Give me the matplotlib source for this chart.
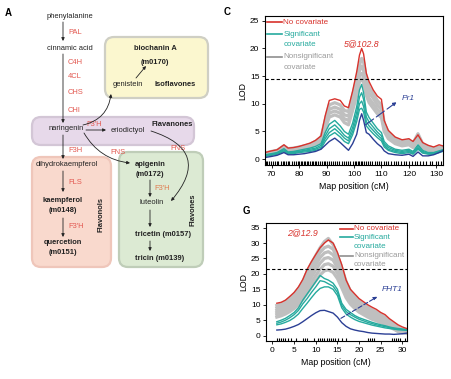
import matplotlib

matplotlib.use("Agg")

import matplotlib.pyplot as plt
from matplotlib.patches import FancyBboxPatch

plt.rcParams["font.family"] = ["Liberation Sans", "DejaVu Sans"]

RED = "#d8322c"
TEAL = "#26aa9e"
BLUE = "#2b3f95"
GRAY = "#bfbfbf"
KEYGRAY = "#8f8f8f"
ENZ = "#e2574f"

# panel C: chromosome 5 scan
c_pos = [67.6, 70, 72, 74.5, 76, 78, 80, 82, 84, 86, 88, 89.5, 91, 93, 95, 96.5,
         98, 99.5, 101, 102, 102.8, 103.5, 104.5, 105.5, 107, 108.5, 110, 111,
         112.5, 115, 117.5, 120, 121.5, 123.3, 125, 127, 129, 131, 132.3]
c_none = [1.2, 1.5, 1.7, 2.6, 2.0, 2.1, 2.3, 2.6, 2.9, 3.4, 4.2, 7.8, 10.6, 10.9,
          10.6, 9.6, 9.3, 12.3, 15.8, 18.8, 20.0, 19.0, 15.5, 14.0, 12.5, 11.4,
          10.8, 7.0, 5.2, 4.0, 3.5, 3.7, 3.2, 4.4, 3.0, 2.5, 2.2, 2.6, 2.4]
c_nonsig = [
    [1.1, 1.4, 1.6, 2.4, 1.9, 2.0, 2.2, 2.4, 2.7, 3.2, 4.0, 7.0, 9.8, 10.2, 9.8, 8.8,
     8.6, 11.5, 14.5, 17.0, 18.2, 17.5, 14.5, 13.0, 11.8, 10.6, 9.8, 6.5, 4.8, 3.7,
     3.2, 3.4, 2.9, 4.6, 2.8, 2.3, 2.0, 2.2, 2.2],
    [1.0, 1.3, 1.5, 2.3, 1.8, 1.9, 2.0, 2.3, 2.5, 3.0, 3.8, 6.5, 9.0, 9.4, 9.0, 8.0,
     7.8, 10.5, 13.5, 16.0, 16.8, 16.0, 13.5, 12.0, 11.0, 9.8, 9.0, 6.0, 4.4, 3.4,
     2.9, 3.1, 2.6, 4.0, 2.5, 2.0, 1.8, 2.0, 2.0],
    [0.9, 1.2, 1.4, 2.1, 1.6, 1.7, 1.9, 2.1, 2.3, 2.8, 3.5, 6.0, 8.3, 8.7, 8.3, 7.3,
     7.0, 9.6, 12.5, 15.0, 15.5, 14.8, 12.5, 11.0, 10.0, 9.0, 8.2, 5.5, 4.0, 3.1,
     2.6, 2.8, 2.3, 3.6, 2.2, 1.8, 1.6, 1.8, 1.9],
    [0.9, 1.1, 1.3, 2.0, 1.5, 1.6, 1.8, 2.0, 2.2, 2.6, 3.2, 5.5, 7.6, 8.0, 7.6, 6.6,
     6.2, 8.8, 11.5, 14.0, 14.5, 13.8, 11.5, 10.2, 9.2, 8.2, 7.5, 5.0, 3.7, 2.8,
     2.4, 2.6, 2.1, 3.3, 2.0, 1.6, 1.5, 1.7, 1.8],
]
c_sig = [
    [0.8, 1.0, 1.2, 1.9, 1.3, 1.4, 1.6, 1.8, 2.0, 2.3, 2.8, 4.8, 6.3, 7.0, 6.0, 5.0,
     4.5, 6.5, 9.5, 12.5, 13.5, 12.0, 8.5, 7.5, 6.5, 5.5, 4.8, 3.2, 2.4, 1.8, 1.6,
     1.8, 1.4, 2.6, 1.6, 1.2, 1.2, 1.5, 1.7],
    [0.7, 0.9, 1.1, 1.7, 1.2, 1.3, 1.4, 1.6, 1.8, 2.0, 2.5, 4.2, 5.5, 6.2, 5.2, 4.3,
     3.8, 5.7, 8.5, 11.2, 12.0, 10.8, 7.6, 6.7, 5.8, 4.9, 4.2, 2.8, 2.1, 1.6, 1.4,
     1.6, 1.2, 2.3, 1.4, 1.1, 1.1, 1.4, 1.6],
    [0.6, 0.8, 1.0, 1.5, 1.1, 1.2, 1.3, 1.5, 1.6, 1.8, 2.2, 3.7, 4.8, 5.5, 4.6, 3.8,
     3.3, 5.0, 7.6, 10.0, 10.5, 9.5, 6.8, 6.0, 5.2, 4.4, 3.7, 2.5, 1.8, 1.4, 1.2,
     1.4, 1.0, 2.0, 1.2, 1.0, 1.0, 1.3, 1.5],
    [0.5, 0.7, 0.9, 1.4, 1.0, 1.0, 1.2, 1.3, 1.4, 1.6, 1.9, 3.2, 4.2, 4.8, 4.0, 3.2,
     2.8, 4.4, 6.8, 9.0, 9.2, 8.5, 6.0, 5.4, 4.6, 3.9, 3.3, 2.2, 1.6, 1.2, 1.0, 1.2,
     0.9, 1.8, 1.1, 0.9, 0.9, 1.2, 1.4],
]
c_pr1 = [0.3, 0.5, 0.7, 1.2, 0.8, 0.8, 0.9, 1.0, 1.2, 1.4, 1.8, 2.5, 3.2, 3.8, 3.0,
         2.3, 1.6, 2.8, 4.5, 7.0, 8.2, 7.0, 4.8, 4.5, 3.6, 2.8, 2.2, 1.5, 1.0, 0.8,
         0.7, 0.9, 0.5, 1.3, 0.6, 0.6, 0.8, 1.2, 1.5]
c_markers = [67.8, 68.5, 69.1, 69.8, 70.6, 71.2, 72.0, 72.5, 73.3, 74.0, 74.6, 75.2,
             75.9, 76.5, 77.4, 78.0, 78.8, 79.5, 80.1, 80.6, 81.2, 81.8, 82.3, 82.9,
             83.4, 84.0, 84.6, 85.1, 85.7, 86.3, 87.0, 87.8, 88.5, 89.0, 89.6, 90.3,
             91.0, 91.6, 92.4, 93.0, 93.8, 94.6, 95.5, 96.3, 97.0, 97.9, 98.7, 99.5,
             100.2, 100.8, 101.3, 101.9, 102.4, 103.0, 103.6, 104.3, 105.0, 105.8,
             106.7, 107.5, 108.4, 109.1, 110.0, 110.9, 111.6, 112.5, 113.4, 114.5,
             115.3, 116.2, 117.0, 118.1, 119.0, 120.2, 121.0, 122.3, 123.1, 124.0,
             125.2, 126.4, 127.6, 128.5, 129.8, 130.6, 131.5]
c_threshold = 14.5
c_peak = (102.8, "5@102.8")

# panel G: chromosome 2 scan
g_pos = [1, 2, 3, 4, 5, 6, 7, 8, 9, 10, 11, 12, 12.9, 14, 15, 16, 17, 18, 19, 20,
         21, 22, 23, 24, 25, 26, 27, 28, 29, 30, 31]
g_none = [10.5, 10.8, 11.5, 12.7, 14.0, 15.8, 18.2, 21.5, 24.0, 26.3, 28.5, 30.0,
          31.0, 30.0, 27.0, 23.0, 18.0, 15.0, 13.5, 12.0, 11.0, 10.0, 9.2, 8.5, 7.5,
          6.8, 5.5, 4.5, 3.5, 2.8, 2.3]
g_nonsig = [
    [9.8, 10.3, 11.0, 12.2, 13.5, 15.2, 17.5, 20.8, 23.5, 26.0, 28.5, 30.5, 31.5, 29.5,
     26.0, 22.0, 17.5, 14.5, 12.8, 11.2, 10.2, 9.2, 8.4, 7.7, 6.8, 6.0, 4.8, 3.8, 2.8,
     2.0, 1.8],
    [9.0, 9.5, 10.2, 11.3, 12.5, 14.2, 16.5, 19.5, 22.0, 24.5, 27.0, 28.5, 29.0, 28.0,
     25.0, 21.0, 16.8, 14.0, 12.2, 10.7, 9.7, 8.7, 7.9, 7.2, 6.3, 5.5, 4.3, 3.3, 2.4,
     1.7, 1.5],
    [8.2, 8.7, 9.4, 10.4, 11.5, 13.0, 15.2, 18.0, 20.5, 23.0, 25.3, 26.8, 27.2, 26.2,
     23.5, 19.8, 15.8, 13.2, 11.5, 10.0, 9.0, 8.1, 7.3, 6.6, 5.8, 5.0, 3.9, 3.0, 2.1,
     1.5, 1.3],
    [7.5, 8.0, 8.6, 9.5, 10.6, 12.0, 14.0, 16.5, 19.0, 21.3, 23.5, 25.0, 25.3, 24.5,
     22.0, 18.5, 14.8, 12.3, 10.8, 9.3, 8.3, 7.4, 6.6, 6.0, 5.2, 4.5, 3.5, 2.7, 1.8,
     1.3, 1.1],
    [6.8, 7.2, 7.8, 8.7, 9.7, 11.0, 12.8, 15.0, 17.3, 19.5, 21.5, 23.0, 23.3, 22.5,
     20.2, 17.0, 13.5, 11.2, 9.8, 8.5, 7.6, 6.8, 6.0, 5.4, 4.7, 4.0, 3.1, 2.4, 1.5,
     1.1, 0.9],
    [6.0, 6.4, 7.0, 7.8, 8.8, 10.0, 11.7, 13.7, 15.8, 17.8, 19.7, 21.0, 21.3, 20.5,
     18.5, 15.5, 12.3, 10.2, 8.8, 7.6, 6.8, 6.0, 5.3, 4.8, 4.2, 3.6, 2.8, 2.1, 1.3,
     0.9, 0.7],
]
g_sig = [
    [4.5, 5.0, 5.6, 6.5, 7.5, 9.0, 11.5, 13.5, 15.5, 17.5, 19.5, 18.5, 18.0, 17.0,
     15.0, 10.5, 8.5, 7.5, 6.5, 5.8, 5.3, 4.8, 4.3, 3.9, 3.5, 3.2, 2.8, 2.5, 2.3, 2.1,
     2.0],
    [4.0, 4.4, 5.0, 5.8, 6.8, 8.2, 10.3, 12.0, 14.0, 15.8, 17.8, 17.5, 16.8, 16.0,
     14.0, 9.8, 7.8, 6.8, 6.0, 5.3, 4.8, 4.3, 3.9, 3.5, 3.2, 2.9, 2.6, 2.3, 2.1, 2.0,
     1.9],
    [3.5, 3.8, 4.3, 4.9, 5.8, 7.0, 8.8, 10.5, 12.3, 14.0, 15.3, 15.8, 15.8, 15.0,
     13.0, 9.0, 7.0, 6.0, 5.2, 4.6, 4.2, 3.8, 3.4, 3.1, 2.8, 2.5, 2.3, 2.1, 1.9, 1.8,
     1.7],
]
g_fht1 = [1.8, 1.9, 2.1, 2.5, 3.0, 3.6, 4.5, 5.5, 6.5, 7.4, 8.1, 8.2, 7.8, 7.3, 6.0,
          4.2, 3.0, 2.2, 1.8, 1.5, 1.3, 1.0, 0.8, 0.7, 0.6, 0.5, 0.5, 0.4, 0.5, 0.6,
          0.8]
g_markers = [1.0, 1.5, 2.0, 2.5, 3.0, 3.5, 4.2, 5.5, 7.0, 7.5, 8.0, 9.5, 10.5, 11.0,
             11.5, 12.0, 12.5, 13.0, 13.5, 14.0, 14.5, 15.2, 16.0, 17.0, 22.0, 22.5,
             23.0, 23.5, 27.5, 28.0, 28.5, 29.0, 29.5, 30.5]
g_threshold = 21.5
g_peak = (12.9, "2@12.9")


def draw_scan(ax, pos, none, nonsig, sig, cov, markers, threshold):
    for series in nonsig:
        ax.plot(pos, series, color=GRAY, lw=2.3)
    for series in sig:
        ax.plot(pos, series, color=TEAL, lw=1.0)
    ax.plot(pos, cov, color=BLUE, lw=1.0)
    ax.plot(pos, none, color=RED, lw=1.0)
    ax.axhline(threshold, color="black", lw=0.8, linestyle=(0, (3, 2)))
    ax.vlines(markers, 0, 0.025, transform=ax.get_xaxis_transform(),
              color="black", lw=0.8)
    ax.tick_params(labelsize=6, length=2.5, width=0.6, pad=1.5)
    for spine in ax.spines.values():
        spine.set_linewidth(0.8)
    ax.set_xlabel("Map position (cM)", fontsize=6.3, labelpad=3)
    ax.set_ylabel("LOD", fontsize=6.3, labelpad=2)


def draw_key(ax, x0, x1, ys):
    entries = [(RED, RED, ["No covariate"]), (TEAL, TEAL, ["Significant", "covariate"]),
               (KEYGRAY, "#9a9a9a", ["Nonsignificant", "covariate"])]
    for (color, tcolor, lines), rows in zip(entries, ys):
        ax.plot([x0, x1], [rows[0], rows[0]], color=color, lw=1.2,
                transform=ax.transAxes, clip_on=False)
        for text, y in zip(lines, rows):
            ax.text(x1 + 0.01, y, text, color=tcolor, fontsize=5.8,
                    transform=ax.transAxes, va="center", ha="left")


fig = plt.figure(figsize=(4.51, 3.79), dpi=100)

# ---- panel A: pathway diagram, drawn in pixel units
axa = fig.add_axes([0, 0, 230 / 451, 1])
axa.set_xlim(0, 230)
axa.set_ylim(379, 0)
axa.axis("off")

boxes = [
    (105, 37, 103, 61, "#fbf7cf", "#cfcfc4"),
    (32, 117, 162, 28, "#e7d9ea", "#d3c6d6"),
    (32, 157, 79, 110, "#f9d9cd", "#efc6ba"),
    (119, 152, 84, 115, "#dcead3", "#bfcdb8"),
]
for x, y, w, h, fc, ec in boxes:
    axa.add_patch(FancyBboxPatch((x, y), w, h, boxstyle="round,pad=0,rounding_size=9",
                                 fc=fc, ec=ec, lw=1.6))

fs = 5.4


def txt(x, y, s, bold=False, color="#222222", **kw):
    axa.text(x, y, s, fontsize=fs, ha="center", va="center", color=color,
             fontweight="bold" if bold else "normal", **kw)


def enzyme(x, y, s, color=ENZ):
    axa.text(x, y, s, fontsize=fs, color=color, ha="left", va="center")


def arrow(p0, p1, rad=0.0):
    axa.annotate("", xy=p1, xytext=p0,
                 arrowprops=dict(arrowstyle="-|>", color="#222222", lw=0.6,
                                 mutation_scale=4.5, shrinkA=0, shrinkB=0,
                                 connectionstyle=f"arc3,rad={rad}"))


axa.text(8, 13, "A", fontsize=7, fontweight="bold", ha="center", va="center")
txt(70, 16, "phenylalanine")
arrow((63, 22), (63, 41))
enzyme(68, 32, "PAL")
txt(70, 48, "cinnamic acid")
arrow((63, 54), (63, 123))
for label, y in [("C4H", 62), ("4CL", 77), ("CHS", 92), ("CHI", 110)]:
    enzyme(68, y, label)

txt(155, 48, "biochanin A", bold=True)
txt(155, 62, "(m0170)", bold=True)
txt(128, 84, "genistein")
txt(175, 84, "Isoflavones", bold=True)
arrow((136, 78), (146, 66))

txt(66, 129, "naringenin")
enzyme(86, 124, "F3'H")
arrow((86, 130), (106, 130))
txt(128, 130, "eriodictyol")
txt(172, 125, "Flavanones", bold=True)
arrow((83, 125), (111, 94), rad=0.35)

arrow((63, 135), (63, 159))
enzyme(68, 150, "F3H")
enzyme(110, 153, "FNS")
enzyme(170, 149, "FNS")
arrow((84, 133), (130, 163), rad=0.25)
arrow((151, 131), (171, 201), rad=-0.75)

txt(67, 164, "dihydrokaempferol")
arrow((63, 171), (63, 192))
enzyme(68, 182, "FLS")
txt(63, 201, "kaempferol", bold=True)
txt(63, 211, "(m0148)", bold=True)
arrow((63, 218), (63, 237))
enzyme(68, 227, "F3'H")
txt(63, 243, "quercetion", bold=True)
txt(63, 253, "(m0151)", bold=True)
txt(101, 215, "Flavonols", bold=True, rotation=90)

txt(150, 164, "apigenin", bold=True)
txt(150, 174, "(m0172)", bold=True)
arrow((150, 180), (150, 197))
enzyme(154, 188, "F3'H", color="#e07b4f")
txt(152, 203, "luteolin")
arrow((150, 210), (150, 227))
txt(163, 235, "tricetin (m0157)", bold=True)
arrow((150, 241), (150, 251))
txt(160, 258, "tricin (m0139)", bold=True)
txt(193, 210, "Flavones", bold=True, rotation=90)

# ---- panel C
axc = fig.add_axes([265 / 451, 1 - 165 / 379, 177.7 / 451, 149 / 379])
draw_scan(axc, c_pos, c_none, c_nonsig, c_sig, c_pr1, c_markers, c_threshold)
axc.set_xlim(67.6, 132.3)
axc.set_ylim(-1.05, 25.85)
axc.set_xticks(range(70, 131, 10))
axc.set_yticks(range(0, 26, 5))
axc.text(c_peak[0], 20.9, c_peak[1], color=RED, fontsize=6.3, style="italic",
         ha="center", va="center")
axc.annotate("", xy=(115.5, 10.3), xytext=(104.2, 6.2),
             arrowprops=dict(arrowstyle="-|>", color=BLUE, lw=0.8, mutation_scale=5,
                             linestyle=(0, (9, 3)), shrinkA=0, shrinkB=0))
axc.text(117.5, 10.9, "Pr1", color=BLUE, fontsize=6, style="italic", va="center")
draw_key(axc, 0.01, 0.094, [(0.957,), (0.879, 0.811), (0.727, 0.653)])
fig.text(227 / 451, 1 - 12 / 379, "C", fontsize=7, fontweight="bold",
         ha="center", va="center")

# ---- panel G
axg = fig.add_axes([266 / 451, 1 - 341 / 379, 140.7 / 451, 118.3 / 379])
draw_scan(axg, g_pos, g_none, g_nonsig, g_sig, g_fht1, g_markers, g_threshold)
axg.set_xlim(-1.5, 31)
axg.set_ylim(-1.75, 36.6)
axg.set_xticks(range(0, 31, 5))
axg.set_yticks(range(0, 36, 5))
axg.text(6.8, 33.2, g_peak[1], color=RED, fontsize=6.3, style="italic",
         ha="center", va="center")
axg.annotate("", xy=(24.2, 12.6), xytext=(15.8, 5.6),
             arrowprops=dict(arrowstyle="-|>", color=BLUE, lw=0.8, mutation_scale=5,
                             linestyle=(0, (4, 2)), shrinkA=0, shrinkB=0))
axg.text(25.2, 15.0, "FHT1", color=BLUE, fontsize=6, style="italic", va="center")
draw_key(axg, 0.526, 0.616, [(0.948,), (0.877, 0.797), (0.721, 0.643)])
fig.text(246 / 451, 1 - 211 / 379, "G", fontsize=7, fontweight="bold",
         ha="center", va="center")

fig.savefig("out.png", dpi=100)
